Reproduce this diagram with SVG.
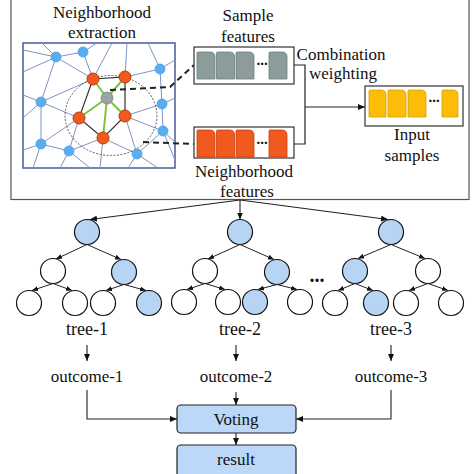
<svg xmlns="http://www.w3.org/2000/svg" width="474" height="474" viewBox="0 0 474 474">
<defs>
<marker id="ah" markerUnits="userSpaceOnUse" markerWidth="7" markerHeight="6" refX="7" refY="3" orient="auto"><path d="M0,0 L7,3 L0,6 Z" fill="#111"/></marker>
<marker id="ahs" markerUnits="userSpaceOnUse" markerWidth="6" markerHeight="5" refX="6" refY="2.5" orient="auto"><path d="M0,0 L6,2.5 L0,5 Z" fill="#111"/></marker>
</defs>
<style>
text{font-family:"Liberation Serif","Times New Roman",serif;font-size:17px;fill:#111;text-anchor:middle}
.mesh line{stroke:#7b95c8;stroke-width:1}
.bn{fill:#5aaef0;stroke:#4a9ee0;stroke-width:0.8}
.on{fill:#f05a1e;stroke:#b83c08;stroke-width:1}
.gr{fill:#8c9c9a;stroke:#6f7d7b;stroke-width:0.8}
.or{fill:#f05a1e;stroke:#c84010;stroke-width:0.8}
.ye{fill:#fbbd08;stroke:#dca000;stroke-width:0.8}
.box{fill:#fff;stroke:#333;stroke-width:1.2}
.tw{fill:#fff;stroke:#111;stroke-width:1.2}
.tb{fill:#b8d4f4;stroke:#111;stroke-width:1.2}
.edge{stroke:#222;stroke-width:1;fill:none;marker-end:url(#ahs)}
.conn{stroke:#222;stroke-width:1.1;fill:none;marker-end:url(#ah)}
.vb{fill:#bcd8f8;stroke:#222;stroke-width:1.2}
.dash{stroke:#222;stroke-width:2;stroke-dasharray:6,4;fill:none}
</style>
<rect x="11" y="-2" width="458" height="201.5" fill="#fff" stroke="#555" stroke-width="1.2"/>

<g id="extraction">
<text x="102" y="18">Neighborhood</text>
<text x="102" y="38">extraction</text>
<rect x="23" y="43" width="152" height="125" fill="#fff" stroke="#4a5a9a" stroke-width="1.5"/>
<g class="mesh">
<line x1="23" y1="50" x2="56" y2="57"/><line x1="42" y1="43" x2="56" y2="57"/><line x1="56" y1="57" x2="83" y2="52"/>
<line x1="83" y1="52" x2="97" y2="43"/><line x1="83" y1="52" x2="93" y2="79"/><line x1="56" y1="57" x2="93" y2="79"/>
<line x1="56" y1="57" x2="41" y2="102"/><line x1="23" y1="72" x2="56" y2="57"/><line x1="23" y1="95" x2="41" y2="102"/>
<line x1="23" y1="118" x2="41" y2="102"/><line x1="41" y1="102" x2="79" y2="118"/><line x1="41" y1="102" x2="41" y2="144"/>
<line x1="41" y1="102" x2="93" y2="79"/><line x1="23" y1="150" x2="41" y2="144"/><line x1="41" y1="144" x2="33" y2="168"/>
<line x1="41" y1="144" x2="69" y2="151"/><line x1="41" y1="144" x2="79" y2="118"/><line x1="69" y1="151" x2="60" y2="168"/>
<line x1="69" y1="151" x2="79" y2="118"/><line x1="69" y1="151" x2="103" y2="138"/><line x1="69" y1="151" x2="90" y2="168"/>
<line x1="103" y1="138" x2="100" y2="168"/><line x1="103" y1="138" x2="137" y2="154"/><line x1="137" y1="154" x2="128" y2="168"/>
<line x1="137" y1="154" x2="158" y2="168"/><line x1="137" y1="154" x2="125" y2="116"/><line x1="137" y1="154" x2="163" y2="131"/>
<line x1="163" y1="131" x2="175" y2="142"/><line x1="163" y1="131" x2="162" y2="104"/><line x1="162" y1="104" x2="175" y2="98"/>
<line x1="162" y1="104" x2="125" y2="116"/><line x1="162" y1="104" x2="160" y2="69"/><line x1="160" y1="69" x2="175" y2="60"/>
<line x1="160" y1="69" x2="148" y2="43"/><line x1="160" y1="69" x2="125" y2="77"/><line x1="125" y1="77" x2="127" y2="43"/>
<line x1="93" y1="79" x2="112" y2="43"/><line x1="163" y1="131" x2="175" y2="160"/><line x1="125" y1="116" x2="163" y2="131"/>
</g>
<ellipse cx="111" cy="115.5" rx="46" ry="40" fill="none" stroke="#333" stroke-width="0.8" stroke-dasharray="2,1.5"/>
<g stroke="#7cc242" stroke-width="2">
<line x1="107" y1="98" x2="93" y2="79"/><line x1="107" y1="98" x2="125" y2="77"/><line x1="107" y1="98" x2="79" y2="118"/>
<line x1="107" y1="98" x2="125" y2="116"/><line x1="107" y1="98" x2="103" y2="138"/>
</g>
<g stroke="#333" stroke-width="1.2" fill="none">
<path d="M93,79 L125,77 L125,116 L103,138 L79,118 Z"/>
</g>
<circle class="bn" cx="56" cy="57" r="5"/><circle class="bn" cx="83" cy="52" r="5"/><circle class="bn" cx="160" cy="69" r="5"/>
<circle class="bn" cx="41" cy="102" r="5"/><circle class="bn" cx="162" cy="104" r="5"/><circle class="bn" cx="163" cy="131" r="5"/>
<circle class="bn" cx="41" cy="144" r="5"/><circle class="bn" cx="69" cy="151" r="5"/><circle class="bn" cx="137" cy="154" r="5"/>
<circle class="on" cx="93" cy="79" r="6"/><circle class="on" cx="125" cy="77" r="6"/><circle class="on" cx="79" cy="118" r="6"/>
<circle class="on" cx="125" cy="116" r="6"/><circle class="on" cx="103" cy="138" r="6"/>
<circle cx="107" cy="98" r="6" fill="#9aa4a4" stroke="#7a8484" stroke-width="0.8"/>
</g>

<g id="dashed-links">
<path class="dash" d="M110,90 L170,87 L194,65"/>
<path class="dash" d="M143,142 L194,144"/>
</g>

<g id="sample-features">
<text x="248" y="21">Sample</text>
<text x="248" y="42">features</text>
<rect class="box" x="194" y="47" width="100" height="37"/>
<path class="gr" d="M197,79 V53 Q197,52 198,52 H210 Q215,52 215,57 V79 Z"/>
<path class="gr" d="M216.5,79 V53 Q216.5,52 217.5,52 H229.5 Q234.5,52 234.5,57 V79 Z"/>
<path class="gr" d="M236,79 V53 Q236,52 237,52 H249 Q254,52 254,57 V79 Z"/>
<path class="gr" d="M269,79 V53 Q269,52 270,52 H282 Q287,52 287,57 V79 Z"/>
<text x="262" y="65" style="font-size:15px;font-weight:bold">...</text>
</g>

<g id="neighborhood-features">
<rect class="box" x="194" y="127" width="100" height="31"/>
<path class="or" d="M197,157 V131 Q197,130 198,130 H210 Q215,130 215,135 V157 Z"/>
<path class="or" d="M216.5,157 V131 Q216.5,130 217.5,130 H229.5 Q234.5,130 234.5,135 V157 Z"/>
<path class="or" d="M236,157 V131 Q236,130 237,130 H249 Q254,130 254,135 V157 Z"/>
<path class="or" d="M269,157 V131 Q269,130 270,130 H282 Q287,130 287,135 V157 Z"/>
<text x="262" y="144" style="font-size:15px;font-weight:bold">...</text>
<text x="244" y="177">Neighborhood</text>
<text x="247" y="197">features</text>
</g>

<g id="combination">
<text x="341" y="60">Combination</text>
<text x="343" y="79">weighting</text>
</g>

<g id="input-samples">
<rect class="box" x="365" y="86" width="98" height="40"/>
<path class="ye" d="M369,117 V91 Q369,90 370,90 H381 Q386,90 386,95 V117 Z"/>
<path class="ye" d="M388,117 V91 Q388,90 389,90 H401 Q406,90 406,95 V117 Z"/>
<path class="ye" d="M408,117 V91 Q408,90 409,90 H421 Q426,90 426,95 V117 Z"/>
<path class="ye" d="M442,117 V91 Q442,90 443,90 H453 Q458,90 458,95 V117 Z"/>
<text x="434" y="102" style="font-size:15px;font-weight:bold">...</text>
<text x="412" y="140">Input</text>
<text x="412" y="161">samples</text>
</g>

<g id="tree-1">
<circle class="tb" cx="87" cy="232" r="12.5"/>
<circle class="tw" cx="53" cy="271" r="12.5"/><circle class="tb" cx="124" cy="272" r="12.5"/>
<circle class="tw" cx="29" cy="303" r="12.5"/><circle class="tw" cx="75" cy="303" r="12.5"/>
<circle class="tw" cx="103" cy="303" r="12.5"/><circle class="tb" cx="149" cy="303" r="12.5"/>
<text x="87" y="335" style="font-size:18px">tree-1</text>
</g>
<g id="tree-2">
<circle class="tb" cx="240" cy="232" r="12.5"/>
<circle class="tw" cx="205" cy="271" r="12.5"/><circle class="tb" cx="277" cy="272" r="12.5"/>
<circle class="tw" cx="184" cy="302" r="12.5"/><circle class="tw" cx="228" cy="302" r="12.5"/>
<circle class="tb" cx="255" cy="302" r="12.5"/><circle class="tw" cx="300" cy="302" r="12.5"/>
<text x="240" y="335" style="font-size:18px">tree-2</text>
</g>
<g id="tree-3">
<circle class="tb" cx="391" cy="232" r="12.5"/>
<circle class="tb" cx="355" cy="271" r="12.5"/><circle class="tw" cx="428" cy="271" r="12.5"/>
<circle class="tw" cx="335" cy="303" r="12.5"/><circle class="tb" cx="376" cy="303" r="12.5"/>
<circle class="tw" cx="406" cy="303" r="12.5"/><circle class="tw" cx="451" cy="303" r="12.5"/>
<text x="391" y="335" style="font-size:18px">tree-3</text>
</g>
<text x="317" y="282" style="font-size:20px;font-weight:bold">...</text>

<g id="outcomes">
<text x="87" y="382">outcome-1</text>
<text x="236" y="382">outcome-2</text>
<text x="391" y="382">outcome-3</text>
</g>
<g id="voting"><rect class="vb" x="177" y="405" width="119" height="28" rx="4"/><text x="236" y="425">Voting</text></g>
<g id="result"><rect class="vb" x="177" y="445" width="119" height="33" rx="4"/><text x="236" y="465">result</text></g>

<g id="connectors">
<path d="M294,65 H305 V144 H294" stroke="#222" stroke-width="1.2" fill="none"/>
<path class="conn" d="M305,107 H365"/>
<path class="conn" d="M240,200 L90,219.5"/>
<path class="conn" d="M240,200 L240,219.5"/>
<path class="conn" d="M240,200 L388,219.5"/>
<path class="edge" d="M87,244.5 L56,259"/><path class="edge" d="M87,244.5 L121,259.5"/>
<path class="edge" d="M53,283.5 L32,290.5"/><path class="edge" d="M53,283.5 L72,290.5"/>
<path class="edge" d="M124,284.5 L106,290.5"/><path class="edge" d="M124,284.5 L146,290.5"/>
<path class="edge" d="M240,244.5 L208,259"/><path class="edge" d="M240,244.5 L274,259.5"/>
<path class="edge" d="M205,283.5 L187,289.5"/><path class="edge" d="M205,283.5 L225,289.5"/>
<path class="edge" d="M277,284.5 L258,289.5"/><path class="edge" d="M277,284.5 L297,289.5"/>
<path class="edge" d="M391,244.5 L358,258.5"/><path class="edge" d="M391,244.5 L425,258.5"/>
<path class="edge" d="M355,283.5 L338,290.5"/><path class="edge" d="M355,283.5 L373,290.5"/>
<path class="edge" d="M428,283.5 L409,290.5"/><path class="edge" d="M428,283.5 L448,290.5"/>
<path class="conn" d="M87,345 V361"/><path class="conn" d="M236,345 V361"/><path class="conn" d="M391,345 V361"/>
<path class="conn" d="M87,390 V419 H177"/>
<path class="conn" d="M391,390 V419 H296"/>
<path class="conn" d="M236,392 V405"/>
<path class="conn" d="M236,433 V445"/>
</g>
</svg>
